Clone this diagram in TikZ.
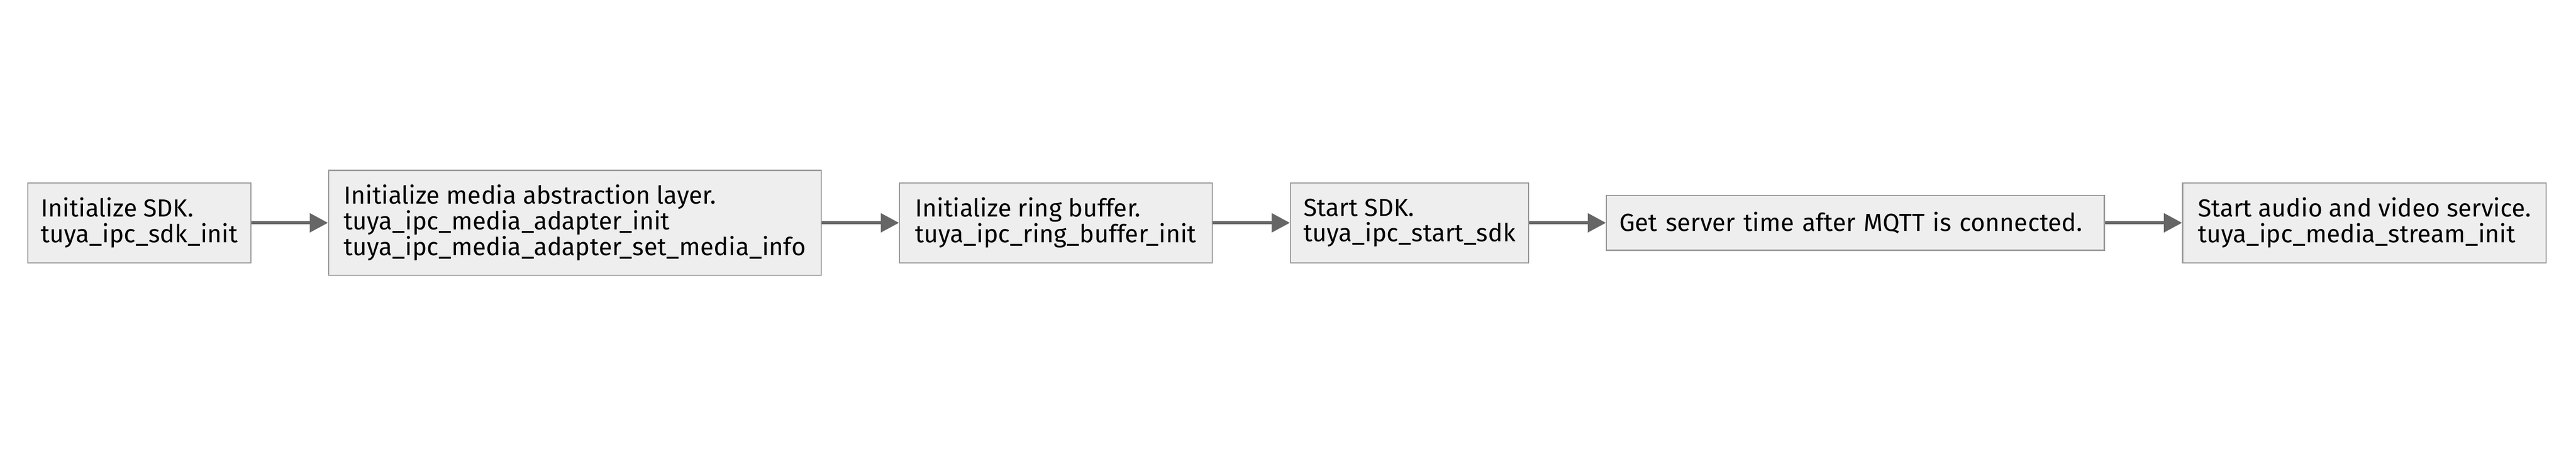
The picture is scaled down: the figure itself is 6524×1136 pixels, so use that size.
\documentclass[tikz,border=0pt]{standalone}
\usepackage{fontspec}
\setmainfont{Fira Sans}
\usetikzlibrary{arrows.meta}
\definecolor{stepfill}{HTML}{EEEEEE}
\definecolor{stepline}{HTML}{999999}
\definecolor{flowline}{HTML}{666666}

\begin{document}
\begin{tikzpicture}[x=0.01cm, y=0.01cm,
		stepbox/.style={draw=stepline, fill=stepfill, line width=0.85pt, inner sep=0pt,
			align=left, minimum height=2.02cm, font=\fontsize{17.8pt}{18.5pt}\selectfont},
		flow/.style={draw=flowline, line width=2.3pt, -{Triangle[length=0.46cm, width=0.47cm]}}]
			%%%%% START %%%%%
			
			\useasboundingbox (0, 0) rectangle (6524, 1136);
			
			\node[stepbox, minimum width=5.64cm] (sdkinit) at (353, 572) {Initialize SDK.\\tuya\_ipc\_sdk\_init};
			\node[stepbox, minimum width=12.47cm, minimum height=2.65cm] (mediainit) at (1456, 572) {Initialize media abstraction layer.\\tuya\_ipc\_media\_adapter\_init\\tuya\_ipc\_media\_adapter\_set\_media\_info};
			\node[stepbox, minimum width=7.91cm] (ringinit) at (2674, 572) {Initialize ring buffer.\\tuya\_ipc\_ring\_buffer\_init};
			\node[stepbox, minimum width=6.03cm] (sdkstart) at (3570, 572) {Start SDK.\\tuya\_ipc\_start\_sdk};
			\node[stepbox, inner xsep=0.33cm, text width=11.94cm, minimum height=1.39cm] (servertime) at (4699, 572) {Get server time after MQTT is connected.};
			\node[stepbox, minimum width=9.20cm] (streaminit) at (5988, 572) {Start audio and video service.\\tuya\_ipc\_media\_stream\_init};
			
			\draw[flow] (sdkinit) -- (mediainit);
			\draw[flow] (mediainit) -- (ringinit);
			\draw[flow] (ringinit) -- (sdkstart);
			\draw[flow] (sdkstart) -- (servertime);
			\draw[flow] (servertime) -- (streaminit);
			
			%%%%% END %%%%%
		\end{tikzpicture}
\end{document}
